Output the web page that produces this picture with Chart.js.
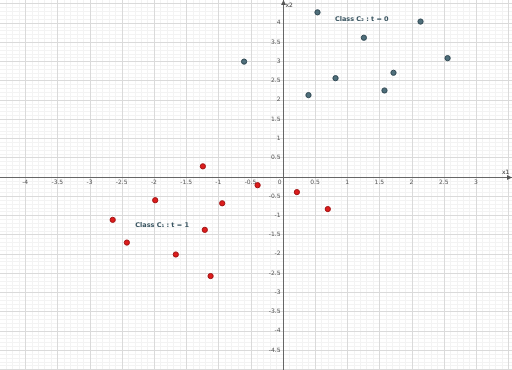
<!DOCTYPE html>
<html>
<head>
<meta charset="utf-8">
<script src="https://cdn.jsdelivr.net/npm/chart.js@4"></script>
<style>
  html, body { margin: 0; padding: 0; background: #fff; }
  canvas { display: block; }
</style>
</head>
<body>
<canvas id="grafico" width="512" height="370"></canvas>
<script>
// Clase C1 (t = 1): puntos rojos
const clase1X = [-1.24, -0.39, 0.22, -0.94, -1.98, -2.64, -1.21, -2.42, -1.66, -1.12, 0.70];
const clase1Y = [0.27, -0.22, -0.40, -0.69, -0.61, -1.12, -1.38, -1.71, -2.02, -2.58, -0.84];

// Clase C2 (t = 0): puntos gris azulado
const clase2X = [-0.60, 0.54, 0.40, 0.82, 1.26, 1.58, 1.72, 2.14, 2.56];
const clase2Y = [2.99, 4.27, 2.12, 2.56, 3.61, 2.24, 2.70, 4.03, 3.08];

// Rangos visibles de los ejes
const rangoX = [-4.39, 3.56];
const rangoY = [-5.02, 4.59];

// Etiquetas de los ejes (cada 0.5)
const ticksX = [-4, -3.5, -3, -2.5, -2, -1.5, -1, -0.5, 0, 0.5, 1, 1.5, 2, 2.5, 3];
const ticksY = [-4.5, -4, -3.5, -3, -2.5, -2, -1.5, -1, -0.5, 0.5, 1, 1.5, 2, 2.5, 3, 3.5, 4];

// Textos
const etiquetaC1 = "Class C\u2081 : t = 1";
const etiquetaC2 = "Class C\u2082 : t = 0";
const nombreEjeX = "x1";
const nombreEjeY = "x2";

function aPuntos(xs, ys) {
  return xs.map((x, i) => ({ x: x, y: ys[i] }));
}

// Cuadricula, ejes y etiquetas dibujados con las escalas del grafico
const cuadricula = {
  id: "cuadricula",
  beforeDatasetsDraw(chart) {
    const ctx = chart.ctx;
    const area = chart.chartArea;
    const sx = chart.scales.x;
    const sy = chart.scales.y;
    const x0 = Math.round(sx.getPixelForValue(0)) + 0.5;
    const y0 = Math.round(sy.getPixelForValue(0)) + 0.5;
    ctx.save();
    ctx.lineWidth = 1;

    // lineas menores (0.1) y mayores (0.5)
    [["#f3f3f3", false], ["#dadada", true]].forEach(([color, mayor]) => {
      ctx.strokeStyle = color;
      ctx.beginPath();
      for (let i = Math.ceil(rangoX[0] * 10); i <= Math.floor(rangoX[1] * 10); i++) {
        if ((i % 5 === 0) !== mayor) continue;
        const px = Math.round(sx.getPixelForValue(i / 10)) + 0.5;
        ctx.moveTo(px, area.top);
        ctx.lineTo(px, area.bottom);
      }
      for (let i = Math.ceil(rangoY[0] * 10); i <= Math.floor(rangoY[1] * 10); i++) {
        if ((i % 5 === 0) !== mayor) continue;
        const py = Math.round(sy.getPixelForValue(i / 10)) + 0.5;
        ctx.moveTo(area.left, py);
        ctx.lineTo(area.right, py);
      }
      ctx.stroke();
    });

    // ejes
    ctx.strokeStyle = "#666";
    ctx.beginPath();
    ctx.moveTo(area.left, y0);
    ctx.lineTo(area.right, y0);
    ctx.moveTo(x0, area.top);
    ctx.lineTo(x0, area.bottom);
    ctx.stroke();

    // flechas
    ctx.fillStyle = "#555";
    ctx.beginPath();
    ctx.moveTo(area.right, y0);
    ctx.lineTo(area.right - 5, y0 - 2.5);
    ctx.lineTo(area.right - 5, y0 + 2.5);
    ctx.fill();
    ctx.beginPath();
    ctx.moveTo(x0, area.top);
    ctx.lineTo(x0 - 2.5, area.top + 5);
    ctx.lineTo(x0 + 2.5, area.top + 5);
    ctx.fill();

    // etiquetas de ticks
    ctx.fillStyle = "#555";
    ctx.font = "6px 'DejaVu Sans'";
    ctx.textBaseline = "top";
    ticksX.forEach(v => {
      if (v === 0) {
        ctx.textAlign = "right";
        ctx.fillText("0", x0 - 2, y0 + 2);
      } else {
        ctx.textAlign = "center";
        ctx.fillText(String(v), sx.getPixelForValue(v), y0 + 2);
      }
    });
    ctx.textAlign = "right";
    ctx.textBaseline = "middle";
    ticksY.forEach(v => {
      ctx.fillText(String(v), x0 - 3, sy.getPixelForValue(v));
    });

    // nombres de ejes
    ctx.fillStyle = "#333";
    ctx.textAlign = "left";
    ctx.fillText(nombreEjeX, area.right - 10, y0 - 5);
    ctx.fillText(nombreEjeY, x0 + 2, area.top + 5);
    ctx.restore();
  },
  afterDatasetsDraw(chart) {
    const ctx = chart.ctx;
    const sx = chart.scales.x;
    const sy = chart.scales.y;
    ctx.save();
    ctx.fillStyle = "#3a5561";
    ctx.font = "bold 6.5px 'DejaVu Sans'";
    ctx.textBaseline = "middle";
    ctx.textAlign = "left";
    ctx.fillText(etiquetaC2, sx.getPixelForValue(0.81), sy.getPixelForValue(4.09));
    ctx.fillText(etiquetaC1, sx.getPixelForValue(-2.29), sy.getPixelForValue(-1.25));
    ctx.restore();
  }
};

const ctx = document.getElementById("grafico").getContext("2d");
new Chart(ctx, {
  type: "scatter",
  data: {
    datasets: [
      {
        label: etiquetaC1,
        data: aPuntos(clase1X, clase1Y),
        backgroundColor: "#dd1c1c",
        borderColor: "#a01212",
        borderWidth: 1,
        pointRadius: 2.6
      },
      {
        label: etiquetaC2,
        data: aPuntos(clase2X, clase2Y),
        backgroundColor: "#4f6f7b",
        borderColor: "#2f4752",
        borderWidth: 1,
        pointRadius: 2.6
      }
    ]
  },
  options: {
    responsive: false,
    animation: false,
    layout: { padding: 0, autoPadding: false },
    plugins: {
      legend: { display: false },
      tooltip: { enabled: false }
    },
    scales: {
      x: { type: "linear", display: false, min: rangoX[0], max: rangoX[1] },
      y: { type: "linear", display: false, min: rangoY[0], max: rangoY[1] }
    }
  },
  plugins: [cuadricula]
});
</script>
</body>
</html>
